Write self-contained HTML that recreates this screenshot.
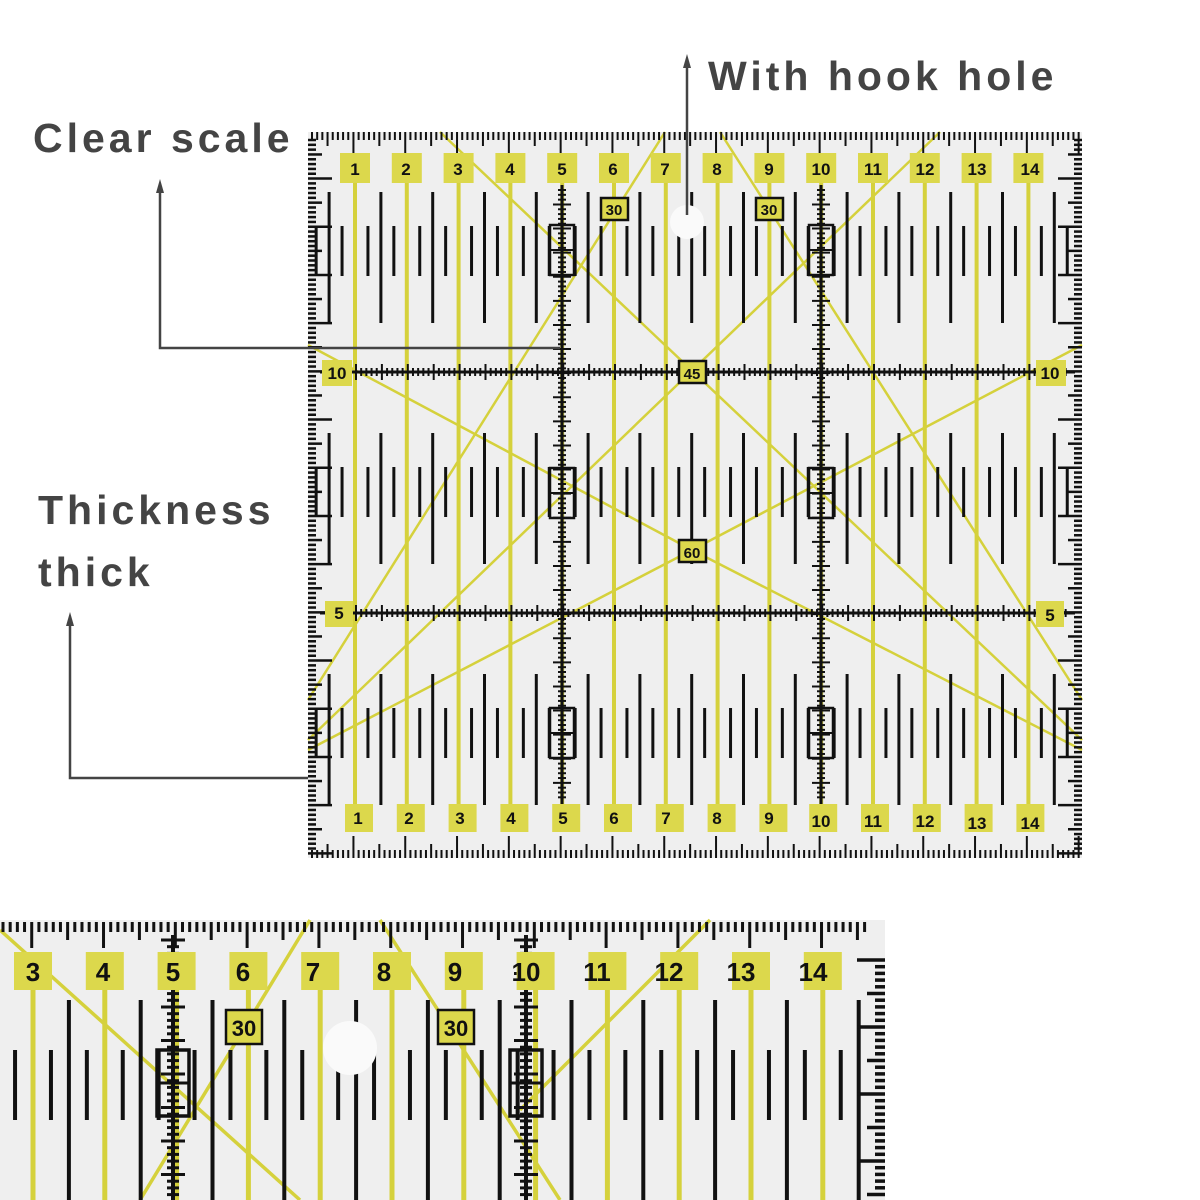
<!DOCTYPE html>
<html><head><meta charset="utf-8"><style>
html,body{margin:0;padding:0;background:#fff;width:1200px;height:1200px;overflow:hidden}
svg{position:absolute;left:0;top:0}
.lab{font-family:"Liberation Sans",sans-serif;font-weight:bold;fill:#444;letter-spacing:4px}
.n{font-family:"Liberation Sans",sans-serif;font-weight:bold;fill:#111;text-anchor:middle}
</style></head><body>
<svg width="1200" height="1200" viewBox="0 0 1200 1200">
<rect x="308" y="132" width="774" height="726" fill="#efefef"/>
<g id="top"></g>
<rect x="0" y="920" width="885" height="280" fill="#efefef"/>
<g id="bot"></g>
<g id="txt">
<g font-size="17" class="n">
<text x="355" y="175" class="n">1</text><text x="406" y="175" class="n">2</text><text x="458" y="175" class="n">3</text><text x="510" y="175" class="n">4</text><text x="562" y="175" class="n">5</text><text x="613" y="175" class="n">6</text><text x="665" y="175" class="n">7</text><text x="717" y="175" class="n">8</text><text x="769" y="175" class="n">9</text><text x="821" y="175" class="n">10</text><text x="873" y="175" class="n">11</text><text x="925" y="175" class="n">12</text><text x="977" y="175" class="n">13</text><text x="1030" y="175" class="n">14</text>
<text x="358" y="824" class="n">1</text><text x="409" y="824" class="n">2</text><text x="460" y="824" class="n">3</text><text x="511" y="824" class="n">4</text><text x="563" y="824" class="n">5</text><text x="614" y="824" class="n">6</text><text x="666" y="824" class="n">7</text><text x="717" y="824" class="n">8</text><text x="769" y="824" class="n">9</text><text x="821" y="827" class="n">10</text><text x="873" y="827" class="n">11</text><text x="925" y="827" class="n">12</text><text x="977" y="829" class="n">13</text><text x="1030" y="829" class="n">14</text>
<text x="337" y="379" class="n">10</text><text x="1050" y="379" class="n">10</text>
<text x="339" y="619" class="n">5</text><text x="1050" y="621" class="n">5</text>
<text x="614" y="215" class="n" font-size="15">30</text><text x="769" y="215" class="n" font-size="15">30</text>
<text x="692" y="379" class="n" font-size="15">45</text><text x="692" y="558" class="n" font-size="15">60</text>
</g>
<g font-size="26">
<text x="33" y="981" class="n">3</text><text x="103" y="981" class="n">4</text><text x="173" y="981" class="n">5</text><text x="243" y="981" class="n">6</text><text x="313" y="981" class="n">7</text><text x="384" y="981" class="n">8</text><text x="455" y="981" class="n">9</text><text x="526" y="981" class="n">10</text><text x="597" y="981" class="n">11</text><text x="669" y="981" class="n">12</text><text x="741" y="981" class="n">13</text><text x="813" y="981" class="n">14</text>
<text x="244" y="1036" class="n" font-size="22">30</text><text x="456" y="1036" class="n" font-size="22">30</text>
</g>
<text x="33" y="152" class="lab" font-size="41">Clear scale</text>
<text x="708" y="90" class="lab" font-size="41">With hook hole</text>
<text x="38" y="524" class="lab" font-size="41">Thickness</text>
<text x="38" y="586" class="lab" font-size="41">thick</text>
</g>
<g stroke="#444" stroke-width="2.5" fill="none">
<path d="M687 60 V215"/><path d="M160 185 V348 H560"/><path d="M70 618 V778 H308"/>
</g>
<g fill="#444"><path d="M687 54 l-4 14 h8z"/><path d="M160 179 l-4 14 h8z"/><path d="M70 612 l-4 14 h8z"/></g>
</svg>
<script>
(function(){
var Y='#d5d13c',S='#dcd84c',B='#111';
function L(a,x1,y1,x2,y2,c,w){a.push('<line x1="'+x1+'" y1="'+y1+'" x2="'+x2+'" y2="'+y2+'" stroke="'+c+'" stroke-width="'+w+'"/>');}
function R(a,x,y,w,h,f,s){a.push('<rect x="'+x+'" y="'+y+'" width="'+w+'" height="'+h+'" fill="'+f+'"'+(s?' stroke="'+s+'" stroke-width="2.5"':'')+'/>');}
var a=[];
var x0=355,dx=51.8;
var dg=[[440,132,1082,740],[940,132,308,740],[308,345,692,550],[692,550,1082,345],[308,750,692,550],[692,550,1082,750],[665,132,308,700],[720,132,1082,700]];
dg.forEach(function(d){L(a,d[0],d[1],d[2],d[3],Y,2.5);});
for(var i=0;i<14;i++){var x=x0+i*dx;L(a,x,183,x,805,Y,4);}
var bands=[192,433,674];
for(var i=-1;i<14;i++){var x=x0+i*dx;
 bands.forEach(function(b){
  if(x+dx/2<1075&&x+dx/2>312)L(a,x+dx/2,b,x+dx/2,b+131,B,3);
  [x+dx/4,x+3*dx/4].forEach(function(q){if(q>312&&q<1075)L(a,q,b+34,q,b+84,B,3);});
 });
}
for(var x=312;x<1080;x+=5.18){var k=Math.round((x-x0)/5.18);var l=(k%10==0)?22:(k%5==0?14:8);L(a,x,132,x,132+l,B,2);L(a,x,858,x,858-l,B,2);}
for(var y=140;y<855;y+=4.82){var k=Math.round((y-372)/4.82);var l=(k%10==0)?24:(k%5==0?14:8);L(a,308,y,308+l,y,B,2.5);L(a,1082,y,1082-l,y,B,2.5);}
[372,613].forEach(function(y){L(a,320,y,1075,y,B,3);for(var x=356;x<1070;x+=5.18){var k=Math.round((x-x0)/5.18);var l=(k%5==0)?8:4;L(a,x,y-l,x,y+l,B,2);}});
[562,821].forEach(function(x){L(a,x,185,x,805,B,3);for(var y=190;y<800;y+=4.82){var k=Math.round((y-372)/4.82);var l=(k%5==0)?9:4;L(a,x-l,y,x+l,y,B,2);}
 [[225,50],[468,50],[708,50]].forEach(function(r){a.push('<rect x="'+(x-12)+'" y="'+r[0]+'" width="24" height="'+r[1]+'" fill="none" stroke="#111" stroke-width="2.5"/>');L(a,x-12,r[0]+25,x+12,r[0]+25,B,2);});});
for(var i=0;i<14;i++){R(a,x0+i*dx-15,153,30,30,S);R(a,x0+i*dx-12+2*(i<9?1:0),804,28,28,S);}
R(a,322,360,30,26,S);R(a,1036,360,30,26,S);R(a,325,601,28,26,S);R(a,1036,601,28,26,S);
R(a,601,198,27,22,S,B);R(a,756,198,27,22,S,B);R(a,679,361,27,22,S,B);R(a,679,540,27,22,S,B);
a.push('<circle cx="687" cy="222" r="17" fill="#fafafa"/>');
document.getElementById('top').innerHTML=a.join('');
var b=[];var bx=33,bd=71.8;
[[0,930,300,1200],[140,1200,310,920],[380,920,560,1200],[520,1110,710,920]].forEach(function(d){L(b,d[0],d[1],d[2],d[3],Y,3.5);});
for(var i=0;i<12;i++){var x=bx+i*bd;L(b,x,985,x,1200,Y,5);}
for(var i=-1;i<12;i++){var x=bx+i*bd;var h=x+bd/2;if(h>5&&h<860)L(b,h,1000,h,1200,B,4);
 [x+bd/4,x+3*bd/4].forEach(function(q){if(q>5&&q<860)L(b,q,1050,q,1120,B,4);});}
for(var x=3;x<870;x+=7.18){var k=Math.round((x-bx)/7.18);var l=(k%10==0)?26:(k%5==0?18:10);L(b,x,922,x,922+l,B,3);}
for(var y=960;y<1200;y+=6.7){var k=Math.round((y-960)/6.7);var l=(k%10==0)?28:(k%5==0?18:10);L(b,885,y,885-l,y,B,3.5);}
[173,526].forEach(function(x){L(b,x,935,x,1200,B,4);for(var y=940;y<1200;y+=6.7){var k=Math.round(y/6.7);var l=(k%5==0)?12:6;L(b,x-l,y,x+l,y,B,3);}
 b.push('<rect x="'+(x-16)+'" y="1050" width="32" height="66" fill="none" stroke="#111" stroke-width="3.5"/>');L(b,x-16,1083,x+16,1083,B,3);});
for(var i=0;i<12;i++)R(b,bx+i*bd-19,952,38,38,S);
R(b,226,1010,36,34,S,B);R(b,438,1010,36,34,S,B);
b.push('<circle cx="350" cy="1048" r="27" fill="#fafafa"/>');
document.getElementById('bot').innerHTML=b.join('');
})();
</script>
</body></html>
